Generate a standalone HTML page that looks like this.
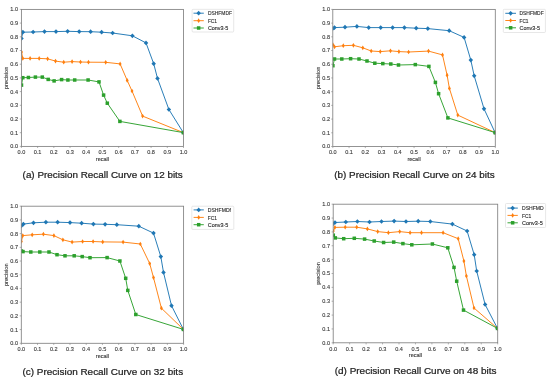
<!DOCTYPE html>
<html><head><meta charset="utf-8"><title>Precision Recall Curves</title>
<style>
html,body{margin:0;padding:0;background:#fff;}
body{width:550px;height:381px;overflow:hidden;}
svg{display:block;}
text{filter:grayscale(1);}
text{font-family:"Liberation Sans",sans-serif;}
.t{font-size:5.4px;fill:#3a3a3a;stroke:#3a3a3a;stroke-width:0.12px;}
.l{font-size:5.7px;fill:#333;stroke:#333;stroke-width:0.16px;}
.cap{font-size:9.3px;fill:#222;stroke:#222;stroke-width:0.22px;}
</style></head>
<body>
<svg width="550" height="381" viewBox="0 0 550 381">
<rect width="550" height="381" fill="#fff"/>
<path d="M21.4 146.4v1.6M21.4 146.4h-1.6M37.61 146.4v1.6M21.4 132.7h-1.6M53.82 146.4v1.6M21.4 119h-1.6M70.03 146.4v1.6M21.4 105.3h-1.6M86.24 146.4v1.6M21.4 91.6h-1.6M102.45 146.4v1.6M21.4 77.9h-1.6M118.66 146.4v1.6M21.4 64.2h-1.6M134.87 146.4v1.6M21.4 50.5h-1.6M151.08 146.4v1.6M21.4 36.8h-1.6M167.29 146.4v1.6M21.4 23.1h-1.6M183.5 146.4v1.6M21.4 9.4h-1.6" stroke="#808080" stroke-width="0.6" fill="none"/>
<text x="21.4" y="154.2" text-anchor="middle" class="t" textLength="7.7" lengthAdjust="spacingAndGlyphs">0.0</text>
<text x="18" y="148.35" text-anchor="end" class="t" textLength="7.7" lengthAdjust="spacingAndGlyphs">0.0</text>
<text x="37.61" y="154.2" text-anchor="middle" class="t" textLength="7.7" lengthAdjust="spacingAndGlyphs">0.1</text>
<text x="18" y="134.65" text-anchor="end" class="t" textLength="7.7" lengthAdjust="spacingAndGlyphs">0.1</text>
<text x="53.82" y="154.2" text-anchor="middle" class="t" textLength="7.7" lengthAdjust="spacingAndGlyphs">0.2</text>
<text x="18" y="120.95" text-anchor="end" class="t" textLength="7.7" lengthAdjust="spacingAndGlyphs">0.2</text>
<text x="70.03" y="154.2" text-anchor="middle" class="t" textLength="7.7" lengthAdjust="spacingAndGlyphs">0.3</text>
<text x="18" y="107.25" text-anchor="end" class="t" textLength="7.7" lengthAdjust="spacingAndGlyphs">0.3</text>
<text x="86.24" y="154.2" text-anchor="middle" class="t" textLength="7.7" lengthAdjust="spacingAndGlyphs">0.4</text>
<text x="18" y="93.55" text-anchor="end" class="t" textLength="7.7" lengthAdjust="spacingAndGlyphs">0.4</text>
<text x="102.45" y="154.2" text-anchor="middle" class="t" textLength="7.7" lengthAdjust="spacingAndGlyphs">0.5</text>
<text x="18" y="79.85" text-anchor="end" class="t" textLength="7.7" lengthAdjust="spacingAndGlyphs">0.5</text>
<text x="118.66" y="154.2" text-anchor="middle" class="t" textLength="7.7" lengthAdjust="spacingAndGlyphs">0.6</text>
<text x="18" y="66.15" text-anchor="end" class="t" textLength="7.7" lengthAdjust="spacingAndGlyphs">0.6</text>
<text x="134.87" y="154.2" text-anchor="middle" class="t" textLength="7.7" lengthAdjust="spacingAndGlyphs">0.7</text>
<text x="18" y="52.45" text-anchor="end" class="t" textLength="7.7" lengthAdjust="spacingAndGlyphs">0.7</text>
<text x="151.08" y="154.2" text-anchor="middle" class="t" textLength="7.7" lengthAdjust="spacingAndGlyphs">0.8</text>
<text x="18" y="38.75" text-anchor="end" class="t" textLength="7.7" lengthAdjust="spacingAndGlyphs">0.8</text>
<text x="167.29" y="154.2" text-anchor="middle" class="t" textLength="7.7" lengthAdjust="spacingAndGlyphs">0.9</text>
<text x="18" y="25.05" text-anchor="end" class="t" textLength="7.7" lengthAdjust="spacingAndGlyphs">0.9</text>
<text x="183.5" y="154.2" text-anchor="middle" class="t" textLength="7.7" lengthAdjust="spacingAndGlyphs">1.0</text>
<text x="18" y="11.35" text-anchor="end" class="t" textLength="7.7" lengthAdjust="spacingAndGlyphs">1.0</text>
<text x="102.45" y="160.7" text-anchor="middle" class="t" textLength="13.3" lengthAdjust="spacingAndGlyphs">recall</text>
<text transform="translate(7.8 77.9) rotate(-90)" text-anchor="middle" class="t" textLength="22.6" lengthAdjust="spacingAndGlyphs">precision</text>
<clipPath id="clip0"><rect x="21.4" y="9.4" width="162.1" height="137"/></clipPath>
<g clip-path="url(#clip0)">
<polyline points="21.5,38.5 22.9,32.2 33.1,32 44.5,31.6 56,31.6 67.6,31.3 79.2,31.6 90.6,31.7 101.6,32.2 112.6,33 132.4,35.8 146,42.9 153.7,63.7 157.5,78.4 168.9,109.5 183.3,132.6" fill="none" stroke="#1f77b4" stroke-width="0.95" stroke-linejoin="round"/>
<polyline points="21.5,52.1 22.8,58.4 30.1,58.4 39.2,58.4 47.6,58.8 55.5,61.1 63.7,62.2 72.1,61.6 80.5,62 88.5,62.2 105.7,62.3 120.1,63.9 127.2,80.4 132,91 142.6,116.1 183.3,132.6" fill="none" stroke="#ff7f0e" stroke-width="0.95" stroke-linejoin="round"/>
<polyline points="21.5,85.1 22.8,77.7 28.4,77.5 35.4,77.1 42.3,77.1 48.2,79.4 54.1,80.9 61.6,79.6 67.9,80 74.7,80 88.1,80 99,81.9 103.6,95.1 107.3,103.2 119.9,121.4 183.3,132.6" fill="none" stroke="#2ca02c" stroke-width="0.95" stroke-linejoin="round"/>
<path d="M21.5 36.15L23.75 38.5L21.5 40.85L19.25 38.5Z" fill="#1f77b4"/>
<path d="M22.9 29.85L25.15 32.2L22.9 34.55L20.65 32.2Z" fill="#1f77b4"/>
<path d="M33.1 29.65L35.35 32L33.1 34.35L30.85 32Z" fill="#1f77b4"/>
<path d="M44.5 29.25L46.75 31.6L44.5 33.95L42.25 31.6Z" fill="#1f77b4"/>
<path d="M56 29.25L58.25 31.6L56 33.95L53.75 31.6Z" fill="#1f77b4"/>
<path d="M67.6 28.95L69.85 31.3L67.6 33.65L65.35 31.3Z" fill="#1f77b4"/>
<path d="M79.2 29.25L81.45 31.6L79.2 33.95L76.95 31.6Z" fill="#1f77b4"/>
<path d="M90.6 29.35L92.85 31.7L90.6 34.05L88.35 31.7Z" fill="#1f77b4"/>
<path d="M101.6 29.85L103.85 32.2L101.6 34.55L99.35 32.2Z" fill="#1f77b4"/>
<path d="M112.6 30.65L114.85 33L112.6 35.35L110.35 33Z" fill="#1f77b4"/>
<path d="M132.4 33.45L134.65 35.8L132.4 38.15L130.15 35.8Z" fill="#1f77b4"/>
<path d="M146 40.55L148.25 42.9L146 45.25L143.75 42.9Z" fill="#1f77b4"/>
<path d="M153.7 61.35L155.95 63.7L153.7 66.05L151.45 63.7Z" fill="#1f77b4"/>
<path d="M157.5 76.05L159.75 78.4L157.5 80.75L155.25 78.4Z" fill="#1f77b4"/>
<path d="M168.9 107.15L171.15 109.5L168.9 111.85L166.65 109.5Z" fill="#1f77b4"/>
<path d="M183.3 130.25L185.55 132.6L183.3 134.95L181.05 132.6Z" fill="#1f77b4"/>
<path d="M21.5 49.75L22.95 52.1L21.5 54.45L20.05 52.1Z" fill="#ff7f0e"/>
<path d="M22.8 56.05L24.25 58.4L22.8 60.75L21.35 58.4Z" fill="#ff7f0e"/>
<path d="M30.1 56.05L31.55 58.4L30.1 60.75L28.65 58.4Z" fill="#ff7f0e"/>
<path d="M39.2 56.05L40.65 58.4L39.2 60.75L37.75 58.4Z" fill="#ff7f0e"/>
<path d="M47.6 56.45L49.05 58.8L47.6 61.15L46.15 58.8Z" fill="#ff7f0e"/>
<path d="M55.5 58.75L56.95 61.1L55.5 63.45L54.05 61.1Z" fill="#ff7f0e"/>
<path d="M63.7 59.85L65.15 62.2L63.7 64.55L62.25 62.2Z" fill="#ff7f0e"/>
<path d="M72.1 59.25L73.55 61.6L72.1 63.95L70.65 61.6Z" fill="#ff7f0e"/>
<path d="M80.5 59.65L81.95 62L80.5 64.35L79.05 62Z" fill="#ff7f0e"/>
<path d="M88.5 59.85L89.95 62.2L88.5 64.55L87.05 62.2Z" fill="#ff7f0e"/>
<path d="M105.7 59.95L107.15 62.3L105.7 64.65L104.25 62.3Z" fill="#ff7f0e"/>
<path d="M120.1 61.55L121.55 63.9L120.1 66.25L118.65 63.9Z" fill="#ff7f0e"/>
<path d="M127.2 78.05L128.65 80.4L127.2 82.75L125.75 80.4Z" fill="#ff7f0e"/>
<path d="M132 88.65L133.45 91L132 93.35L130.55 91Z" fill="#ff7f0e"/>
<path d="M142.6 113.75L144.05 116.1L142.6 118.45L141.15 116.1Z" fill="#ff7f0e"/>
<path d="M183.3 130.25L184.75 132.6L183.3 134.95L181.85 132.6Z" fill="#ff7f0e"/>
<rect x="19.75" y="83.35" width="3.5" height="3.5" fill="#2ca02c"/>
<rect x="21.05" y="75.95" width="3.5" height="3.5" fill="#2ca02c"/>
<rect x="26.65" y="75.75" width="3.5" height="3.5" fill="#2ca02c"/>
<rect x="33.65" y="75.35" width="3.5" height="3.5" fill="#2ca02c"/>
<rect x="40.55" y="75.35" width="3.5" height="3.5" fill="#2ca02c"/>
<rect x="46.45" y="77.65" width="3.5" height="3.5" fill="#2ca02c"/>
<rect x="52.35" y="79.15" width="3.5" height="3.5" fill="#2ca02c"/>
<rect x="59.85" y="77.85" width="3.5" height="3.5" fill="#2ca02c"/>
<rect x="66.15" y="78.25" width="3.5" height="3.5" fill="#2ca02c"/>
<rect x="72.95" y="78.25" width="3.5" height="3.5" fill="#2ca02c"/>
<rect x="86.35" y="78.25" width="3.5" height="3.5" fill="#2ca02c"/>
<rect x="97.25" y="80.15" width="3.5" height="3.5" fill="#2ca02c"/>
<rect x="101.85" y="93.35" width="3.5" height="3.5" fill="#2ca02c"/>
<rect x="105.55" y="101.45" width="3.5" height="3.5" fill="#2ca02c"/>
<rect x="118.15" y="119.65" width="3.5" height="3.5" fill="#2ca02c"/>
<rect x="181.55" y="130.85" width="3.5" height="3.5" fill="#2ca02c"/>
</g>
<rect x="21.4" y="9.4" width="162.1" height="137" fill="none" stroke="#808080" stroke-width="0.85"/>
<rect x="192.1" y="9.3" width="41.6" height="22.7" rx="0.9" fill="#fff" stroke="#d6d6d6" stroke-width="0.6"/>
<path d="M193.5 13.2H203.8" stroke="#1f77b4" stroke-width="0.95"/>
<path d="M198.65 10.85L200.9 13.2L198.65 15.55L196.4 13.2Z" fill="#1f77b4"/>
<text x="207.9" y="15.35" class="l" textLength="24.1" lengthAdjust="spacingAndGlyphs">DSHFMDF</text>
<path d="M193.5 20.7H203.8" stroke="#ff7f0e" stroke-width="0.95"/>
<path d="M198.65 18.35L200.1 20.7L198.65 23.05L197.2 20.7Z" fill="#ff7f0e"/>
<text x="207.9" y="22.85" class="l" textLength="9" lengthAdjust="spacingAndGlyphs">FC1</text>
<path d="M193.5 28H203.8" stroke="#2ca02c" stroke-width="0.95"/>
<rect x="196.9" y="26.25" width="3.5" height="3.5" fill="#2ca02c"/>
<text x="207.9" y="30.15" class="l" textLength="20.5" lengthAdjust="spacingAndGlyphs">Conv3-5</text>
<text x="22.6" y="177.7" class="cap" textLength="160.2" lengthAdjust="spacingAndGlyphs">(a) Precision Recall Curve on 12 bits</text>
<path d="M332.8 146.5v1.6M332.8 146.5h-1.6M349.05 146.5v1.6M332.8 132.79h-1.6M365.3 146.5v1.6M332.8 119.08h-1.6M381.55 146.5v1.6M332.8 105.37h-1.6M397.8 146.5v1.6M332.8 91.66h-1.6M414.05 146.5v1.6M332.8 77.95h-1.6M430.3 146.5v1.6M332.8 64.24h-1.6M446.55 146.5v1.6M332.8 50.53h-1.6M462.8 146.5v1.6M332.8 36.82h-1.6M479.05 146.5v1.6M332.8 23.11h-1.6M495.3 146.5v1.6M332.8 9.4h-1.6" stroke="#808080" stroke-width="0.6" fill="none"/>
<text x="332.8" y="154.3" text-anchor="middle" class="t" textLength="7.7" lengthAdjust="spacingAndGlyphs">0.0</text>
<text x="330" y="148.45" text-anchor="end" class="t" textLength="7.7" lengthAdjust="spacingAndGlyphs">0.0</text>
<text x="349.05" y="154.3" text-anchor="middle" class="t" textLength="7.7" lengthAdjust="spacingAndGlyphs">0.1</text>
<text x="330" y="134.74" text-anchor="end" class="t" textLength="7.7" lengthAdjust="spacingAndGlyphs">0.1</text>
<text x="365.3" y="154.3" text-anchor="middle" class="t" textLength="7.7" lengthAdjust="spacingAndGlyphs">0.2</text>
<text x="330" y="121.03" text-anchor="end" class="t" textLength="7.7" lengthAdjust="spacingAndGlyphs">0.2</text>
<text x="381.55" y="154.3" text-anchor="middle" class="t" textLength="7.7" lengthAdjust="spacingAndGlyphs">0.3</text>
<text x="330" y="107.32" text-anchor="end" class="t" textLength="7.7" lengthAdjust="spacingAndGlyphs">0.3</text>
<text x="397.8" y="154.3" text-anchor="middle" class="t" textLength="7.7" lengthAdjust="spacingAndGlyphs">0.4</text>
<text x="330" y="93.61" text-anchor="end" class="t" textLength="7.7" lengthAdjust="spacingAndGlyphs">0.4</text>
<text x="414.05" y="154.3" text-anchor="middle" class="t" textLength="7.7" lengthAdjust="spacingAndGlyphs">0.5</text>
<text x="330" y="79.9" text-anchor="end" class="t" textLength="7.7" lengthAdjust="spacingAndGlyphs">0.5</text>
<text x="430.3" y="154.3" text-anchor="middle" class="t" textLength="7.7" lengthAdjust="spacingAndGlyphs">0.6</text>
<text x="330" y="66.19" text-anchor="end" class="t" textLength="7.7" lengthAdjust="spacingAndGlyphs">0.6</text>
<text x="446.55" y="154.3" text-anchor="middle" class="t" textLength="7.7" lengthAdjust="spacingAndGlyphs">0.7</text>
<text x="330" y="52.48" text-anchor="end" class="t" textLength="7.7" lengthAdjust="spacingAndGlyphs">0.7</text>
<text x="462.8" y="154.3" text-anchor="middle" class="t" textLength="7.7" lengthAdjust="spacingAndGlyphs">0.8</text>
<text x="330" y="38.77" text-anchor="end" class="t" textLength="7.7" lengthAdjust="spacingAndGlyphs">0.8</text>
<text x="479.05" y="154.3" text-anchor="middle" class="t" textLength="7.7" lengthAdjust="spacingAndGlyphs">0.9</text>
<text x="330" y="25.06" text-anchor="end" class="t" textLength="7.7" lengthAdjust="spacingAndGlyphs">0.9</text>
<text x="495.3" y="154.3" text-anchor="middle" class="t" textLength="7.7" lengthAdjust="spacingAndGlyphs">1.0</text>
<text x="330" y="11.35" text-anchor="end" class="t" textLength="7.7" lengthAdjust="spacingAndGlyphs">1.0</text>
<text x="414.05" y="160.8" text-anchor="middle" class="t" textLength="13.3" lengthAdjust="spacingAndGlyphs">recall</text>
<text transform="translate(319.6 77.95) rotate(-90)" text-anchor="middle" class="t" textLength="22.6" lengthAdjust="spacingAndGlyphs">precision</text>
<clipPath id="clip1"><rect x="332.8" y="9.4" width="162.5" height="137.1"/></clipPath>
<g clip-path="url(#clip1)">
<polyline points="332.9,28.5 334.5,27.6 345,27.2 356.9,26.4 368.7,27.6 380.7,27.6 392.6,27.6 404.4,27.6 416.2,28.2 427.8,28.6 449.2,30.7 464.1,37.4 470.8,60.1 474.2,75.8 484,108.8 495.1,132.6" fill="none" stroke="#1f77b4" stroke-width="0.95" stroke-linejoin="round"/>
<polyline points="332.9,44.7 334.5,46.8 343.3,45.7 353.4,45.3 362.8,47.8 371.2,51 380.3,51.6 390.5,50.8 398.9,51.6 408.6,52 428.5,51.1 442.5,54.9 447.1,75.2 449.4,88.4 457.8,115.1 495.1,132.6" fill="none" stroke="#ff7f0e" stroke-width="0.95" stroke-linejoin="round"/>
<polyline points="332.9,65.7 334.5,59 341.8,59 350.6,58.7 359,59 367,61 374.8,63.2 382.8,63.6 390.8,64 398.5,65 415.3,64.6 428.9,66.4 435.4,82.4 438.6,93.7 447.9,117.9 495.1,132.6" fill="none" stroke="#2ca02c" stroke-width="0.95" stroke-linejoin="round"/>
<path d="M332.9 26.15L335.15 28.5L332.9 30.85L330.65 28.5Z" fill="#1f77b4"/>
<path d="M334.5 25.25L336.75 27.6L334.5 29.95L332.25 27.6Z" fill="#1f77b4"/>
<path d="M345 24.85L347.25 27.2L345 29.55L342.75 27.2Z" fill="#1f77b4"/>
<path d="M356.9 24.05L359.15 26.4L356.9 28.75L354.65 26.4Z" fill="#1f77b4"/>
<path d="M368.7 25.25L370.95 27.6L368.7 29.95L366.45 27.6Z" fill="#1f77b4"/>
<path d="M380.7 25.25L382.95 27.6L380.7 29.95L378.45 27.6Z" fill="#1f77b4"/>
<path d="M392.6 25.25L394.85 27.6L392.6 29.95L390.35 27.6Z" fill="#1f77b4"/>
<path d="M404.4 25.25L406.65 27.6L404.4 29.95L402.15 27.6Z" fill="#1f77b4"/>
<path d="M416.2 25.85L418.45 28.2L416.2 30.55L413.95 28.2Z" fill="#1f77b4"/>
<path d="M427.8 26.25L430.05 28.6L427.8 30.95L425.55 28.6Z" fill="#1f77b4"/>
<path d="M449.2 28.35L451.45 30.7L449.2 33.05L446.95 30.7Z" fill="#1f77b4"/>
<path d="M464.1 35.05L466.35 37.4L464.1 39.75L461.85 37.4Z" fill="#1f77b4"/>
<path d="M470.8 57.75L473.05 60.1L470.8 62.45L468.55 60.1Z" fill="#1f77b4"/>
<path d="M474.2 73.45L476.45 75.8L474.2 78.15L471.95 75.8Z" fill="#1f77b4"/>
<path d="M484 106.45L486.25 108.8L484 111.15L481.75 108.8Z" fill="#1f77b4"/>
<path d="M495.1 130.25L497.35 132.6L495.1 134.95L492.85 132.6Z" fill="#1f77b4"/>
<path d="M332.9 42.35L334.35 44.7L332.9 47.05L331.45 44.7Z" fill="#ff7f0e"/>
<path d="M334.5 44.45L335.95 46.8L334.5 49.15L333.05 46.8Z" fill="#ff7f0e"/>
<path d="M343.3 43.35L344.75 45.7L343.3 48.05L341.85 45.7Z" fill="#ff7f0e"/>
<path d="M353.4 42.95L354.85 45.3L353.4 47.65L351.95 45.3Z" fill="#ff7f0e"/>
<path d="M362.8 45.45L364.25 47.8L362.8 50.15L361.35 47.8Z" fill="#ff7f0e"/>
<path d="M371.2 48.65L372.65 51L371.2 53.35L369.75 51Z" fill="#ff7f0e"/>
<path d="M380.3 49.25L381.75 51.6L380.3 53.95L378.85 51.6Z" fill="#ff7f0e"/>
<path d="M390.5 48.45L391.95 50.8L390.5 53.15L389.05 50.8Z" fill="#ff7f0e"/>
<path d="M398.9 49.25L400.35 51.6L398.9 53.95L397.45 51.6Z" fill="#ff7f0e"/>
<path d="M408.6 49.65L410.05 52L408.6 54.35L407.15 52Z" fill="#ff7f0e"/>
<path d="M428.5 48.75L429.95 51.1L428.5 53.45L427.05 51.1Z" fill="#ff7f0e"/>
<path d="M442.5 52.55L443.95 54.9L442.5 57.25L441.05 54.9Z" fill="#ff7f0e"/>
<path d="M447.1 72.85L448.55 75.2L447.1 77.55L445.65 75.2Z" fill="#ff7f0e"/>
<path d="M449.4 86.05L450.85 88.4L449.4 90.75L447.95 88.4Z" fill="#ff7f0e"/>
<path d="M457.8 112.75L459.25 115.1L457.8 117.45L456.35 115.1Z" fill="#ff7f0e"/>
<path d="M495.1 130.25L496.55 132.6L495.1 134.95L493.65 132.6Z" fill="#ff7f0e"/>
<rect x="331.15" y="63.95" width="3.5" height="3.5" fill="#2ca02c"/>
<rect x="332.75" y="57.25" width="3.5" height="3.5" fill="#2ca02c"/>
<rect x="340.05" y="57.25" width="3.5" height="3.5" fill="#2ca02c"/>
<rect x="348.85" y="56.95" width="3.5" height="3.5" fill="#2ca02c"/>
<rect x="357.25" y="57.25" width="3.5" height="3.5" fill="#2ca02c"/>
<rect x="365.25" y="59.25" width="3.5" height="3.5" fill="#2ca02c"/>
<rect x="373.05" y="61.45" width="3.5" height="3.5" fill="#2ca02c"/>
<rect x="381.05" y="61.85" width="3.5" height="3.5" fill="#2ca02c"/>
<rect x="389.05" y="62.25" width="3.5" height="3.5" fill="#2ca02c"/>
<rect x="396.75" y="63.25" width="3.5" height="3.5" fill="#2ca02c"/>
<rect x="413.55" y="62.85" width="3.5" height="3.5" fill="#2ca02c"/>
<rect x="427.15" y="64.65" width="3.5" height="3.5" fill="#2ca02c"/>
<rect x="433.65" y="80.65" width="3.5" height="3.5" fill="#2ca02c"/>
<rect x="436.85" y="91.95" width="3.5" height="3.5" fill="#2ca02c"/>
<rect x="446.15" y="116.15" width="3.5" height="3.5" fill="#2ca02c"/>
<rect x="493.35" y="130.85" width="3.5" height="3.5" fill="#2ca02c"/>
</g>
<rect x="332.8" y="9.4" width="162.5" height="137.1" fill="none" stroke="#808080" stroke-width="0.85"/>
<rect x="503.3" y="9.3" width="42.1" height="23.2" rx="0.9" fill="#fff" stroke="#d6d6d6" stroke-width="0.6"/>
<path d="M505.3 13.3H516" stroke="#1f77b4" stroke-width="0.95"/>
<path d="M510.65 10.95L512.9 13.3L510.65 15.65L508.4 13.3Z" fill="#1f77b4"/>
<text x="519.5" y="15.45" class="l" textLength="24.2" lengthAdjust="spacingAndGlyphs">DSHFMDF</text>
<path d="M505.3 20.5H516" stroke="#ff7f0e" stroke-width="0.95"/>
<path d="M510.65 18.15L512.1 20.5L510.65 22.85L509.2 20.5Z" fill="#ff7f0e"/>
<text x="519.5" y="22.65" class="l" textLength="9" lengthAdjust="spacingAndGlyphs">FC1</text>
<path d="M505.3 27.8H516" stroke="#2ca02c" stroke-width="0.95"/>
<rect x="508.9" y="26.05" width="3.5" height="3.5" fill="#2ca02c"/>
<text x="519.5" y="29.95" class="l" textLength="20.5" lengthAdjust="spacingAndGlyphs">Conv3-5</text>
<text x="334.3" y="177.7" class="cap" textLength="160.4" lengthAdjust="spacingAndGlyphs">(b) Precision Recall Curve on 24 bits</text>
<path d="M21.3 343.3v1.6M21.3 343.3h-1.6M37.53 343.3v1.6M21.3 329.59h-1.6M53.76 343.3v1.6M21.3 315.88h-1.6M69.99 343.3v1.6M21.3 302.17h-1.6M86.22 343.3v1.6M21.3 288.46h-1.6M102.45 343.3v1.6M21.3 274.75h-1.6M118.68 343.3v1.6M21.3 261.04h-1.6M134.91 343.3v1.6M21.3 247.33h-1.6M151.14 343.3v1.6M21.3 233.62h-1.6M167.37 343.3v1.6M21.3 219.91h-1.6M183.6 343.3v1.6M21.3 206.2h-1.6" stroke="#808080" stroke-width="0.6" fill="none"/>
<text x="21.3" y="351.1" text-anchor="middle" class="t" textLength="7.7" lengthAdjust="spacingAndGlyphs">0.0</text>
<text x="18" y="345.25" text-anchor="end" class="t" textLength="7.7" lengthAdjust="spacingAndGlyphs">0.0</text>
<text x="37.53" y="351.1" text-anchor="middle" class="t" textLength="7.7" lengthAdjust="spacingAndGlyphs">0.1</text>
<text x="18" y="331.54" text-anchor="end" class="t" textLength="7.7" lengthAdjust="spacingAndGlyphs">0.1</text>
<text x="53.76" y="351.1" text-anchor="middle" class="t" textLength="7.7" lengthAdjust="spacingAndGlyphs">0.2</text>
<text x="18" y="317.83" text-anchor="end" class="t" textLength="7.7" lengthAdjust="spacingAndGlyphs">0.2</text>
<text x="69.99" y="351.1" text-anchor="middle" class="t" textLength="7.7" lengthAdjust="spacingAndGlyphs">0.3</text>
<text x="18" y="304.12" text-anchor="end" class="t" textLength="7.7" lengthAdjust="spacingAndGlyphs">0.3</text>
<text x="86.22" y="351.1" text-anchor="middle" class="t" textLength="7.7" lengthAdjust="spacingAndGlyphs">0.4</text>
<text x="18" y="290.41" text-anchor="end" class="t" textLength="7.7" lengthAdjust="spacingAndGlyphs">0.4</text>
<text x="102.45" y="351.1" text-anchor="middle" class="t" textLength="7.7" lengthAdjust="spacingAndGlyphs">0.5</text>
<text x="18" y="276.7" text-anchor="end" class="t" textLength="7.7" lengthAdjust="spacingAndGlyphs">0.5</text>
<text x="118.68" y="351.1" text-anchor="middle" class="t" textLength="7.7" lengthAdjust="spacingAndGlyphs">0.6</text>
<text x="18" y="262.99" text-anchor="end" class="t" textLength="7.7" lengthAdjust="spacingAndGlyphs">0.6</text>
<text x="134.91" y="351.1" text-anchor="middle" class="t" textLength="7.7" lengthAdjust="spacingAndGlyphs">0.7</text>
<text x="18" y="249.28" text-anchor="end" class="t" textLength="7.7" lengthAdjust="spacingAndGlyphs">0.7</text>
<text x="151.14" y="351.1" text-anchor="middle" class="t" textLength="7.7" lengthAdjust="spacingAndGlyphs">0.8</text>
<text x="18" y="235.57" text-anchor="end" class="t" textLength="7.7" lengthAdjust="spacingAndGlyphs">0.8</text>
<text x="167.37" y="351.1" text-anchor="middle" class="t" textLength="7.7" lengthAdjust="spacingAndGlyphs">0.9</text>
<text x="18" y="221.86" text-anchor="end" class="t" textLength="7.7" lengthAdjust="spacingAndGlyphs">0.9</text>
<text x="183.6" y="351.1" text-anchor="middle" class="t" textLength="7.7" lengthAdjust="spacingAndGlyphs">1.0</text>
<text x="18" y="208.15" text-anchor="end" class="t" textLength="7.7" lengthAdjust="spacingAndGlyphs">1.0</text>
<text x="102.45" y="357.6" text-anchor="middle" class="t" textLength="13.3" lengthAdjust="spacingAndGlyphs">recall</text>
<text transform="translate(7.8 274.75) rotate(-90)" text-anchor="middle" class="t" textLength="22.6" lengthAdjust="spacingAndGlyphs">precision</text>
<clipPath id="clip2"><rect x="21.3" y="206.2" width="162.3" height="137.1"/></clipPath>
<g clip-path="url(#clip2)">
<polyline points="21.4,225.8 23.4,224.1 33.5,222.8 45.9,222.2 57.6,222.2 70,222.6 81.6,223.2 93.4,224.1 105.1,224.3 116.8,224.7 138.8,226.2 153.5,233.1 160.8,256.6 163.5,272.4 171.5,305.7 183.4,329.4" fill="none" stroke="#1f77b4" stroke-width="0.95" stroke-linejoin="round"/>
<polyline points="21.4,241.5 22.8,235.6 32.2,234.8 43.4,234.2 53.9,235.6 62.9,239.8 72.1,242.1 82.6,241.5 93.1,241.5 102.7,241.9 123.1,242.1 140.3,244 149.7,263.5 153.5,277.6 161.4,308.2 183.4,329.4" fill="none" stroke="#ff7f0e" stroke-width="0.95" stroke-linejoin="round"/>
<polyline points="21.4,251 23,251.6 30.8,252 39.8,252 49,252 57,254.7 65,255.8 74.2,255.8 82.2,256.6 90,257.7 107.1,257.6 119.9,261 125.7,278.3 127.8,290.4 135.8,314.5 183.4,329.4" fill="none" stroke="#2ca02c" stroke-width="0.95" stroke-linejoin="round"/>
<path d="M21.4 223.45L23.65 225.8L21.4 228.15L19.15 225.8Z" fill="#1f77b4"/>
<path d="M23.4 221.75L25.65 224.1L23.4 226.45L21.15 224.1Z" fill="#1f77b4"/>
<path d="M33.5 220.45L35.75 222.8L33.5 225.15L31.25 222.8Z" fill="#1f77b4"/>
<path d="M45.9 219.85L48.15 222.2L45.9 224.55L43.65 222.2Z" fill="#1f77b4"/>
<path d="M57.6 219.85L59.85 222.2L57.6 224.55L55.35 222.2Z" fill="#1f77b4"/>
<path d="M70 220.25L72.25 222.6L70 224.95L67.75 222.6Z" fill="#1f77b4"/>
<path d="M81.6 220.85L83.85 223.2L81.6 225.55L79.35 223.2Z" fill="#1f77b4"/>
<path d="M93.4 221.75L95.65 224.1L93.4 226.45L91.15 224.1Z" fill="#1f77b4"/>
<path d="M105.1 221.95L107.35 224.3L105.1 226.65L102.85 224.3Z" fill="#1f77b4"/>
<path d="M116.8 222.35L119.05 224.7L116.8 227.05L114.55 224.7Z" fill="#1f77b4"/>
<path d="M138.8 223.85L141.05 226.2L138.8 228.55L136.55 226.2Z" fill="#1f77b4"/>
<path d="M153.5 230.75L155.75 233.1L153.5 235.45L151.25 233.1Z" fill="#1f77b4"/>
<path d="M160.8 254.25L163.05 256.6L160.8 258.95L158.55 256.6Z" fill="#1f77b4"/>
<path d="M163.5 270.05L165.75 272.4L163.5 274.75L161.25 272.4Z" fill="#1f77b4"/>
<path d="M171.5 303.35L173.75 305.7L171.5 308.05L169.25 305.7Z" fill="#1f77b4"/>
<path d="M183.4 327.05L185.65 329.4L183.4 331.75L181.15 329.4Z" fill="#1f77b4"/>
<path d="M21.4 239.15L22.85 241.5L21.4 243.85L19.95 241.5Z" fill="#ff7f0e"/>
<path d="M22.8 233.25L24.25 235.6L22.8 237.95L21.35 235.6Z" fill="#ff7f0e"/>
<path d="M32.2 232.45L33.65 234.8L32.2 237.15L30.75 234.8Z" fill="#ff7f0e"/>
<path d="M43.4 231.85L44.85 234.2L43.4 236.55L41.95 234.2Z" fill="#ff7f0e"/>
<path d="M53.9 233.25L55.35 235.6L53.9 237.95L52.45 235.6Z" fill="#ff7f0e"/>
<path d="M62.9 237.45L64.35 239.8L62.9 242.15L61.45 239.8Z" fill="#ff7f0e"/>
<path d="M72.1 239.75L73.55 242.1L72.1 244.45L70.65 242.1Z" fill="#ff7f0e"/>
<path d="M82.6 239.15L84.05 241.5L82.6 243.85L81.15 241.5Z" fill="#ff7f0e"/>
<path d="M93.1 239.15L94.55 241.5L93.1 243.85L91.65 241.5Z" fill="#ff7f0e"/>
<path d="M102.7 239.55L104.15 241.9L102.7 244.25L101.25 241.9Z" fill="#ff7f0e"/>
<path d="M123.1 239.75L124.55 242.1L123.1 244.45L121.65 242.1Z" fill="#ff7f0e"/>
<path d="M140.3 241.65L141.75 244L140.3 246.35L138.85 244Z" fill="#ff7f0e"/>
<path d="M149.7 261.15L151.15 263.5L149.7 265.85L148.25 263.5Z" fill="#ff7f0e"/>
<path d="M153.5 275.25L154.95 277.6L153.5 279.95L152.05 277.6Z" fill="#ff7f0e"/>
<path d="M161.4 305.85L162.85 308.2L161.4 310.55L159.95 308.2Z" fill="#ff7f0e"/>
<path d="M183.4 327.05L184.85 329.4L183.4 331.75L181.95 329.4Z" fill="#ff7f0e"/>
<rect x="19.65" y="249.25" width="3.5" height="3.5" fill="#2ca02c"/>
<rect x="21.25" y="249.85" width="3.5" height="3.5" fill="#2ca02c"/>
<rect x="29.05" y="250.25" width="3.5" height="3.5" fill="#2ca02c"/>
<rect x="38.05" y="250.25" width="3.5" height="3.5" fill="#2ca02c"/>
<rect x="47.25" y="250.25" width="3.5" height="3.5" fill="#2ca02c"/>
<rect x="55.25" y="252.95" width="3.5" height="3.5" fill="#2ca02c"/>
<rect x="63.25" y="254.05" width="3.5" height="3.5" fill="#2ca02c"/>
<rect x="72.45" y="254.05" width="3.5" height="3.5" fill="#2ca02c"/>
<rect x="80.45" y="254.85" width="3.5" height="3.5" fill="#2ca02c"/>
<rect x="88.25" y="255.95" width="3.5" height="3.5" fill="#2ca02c"/>
<rect x="105.35" y="255.85" width="3.5" height="3.5" fill="#2ca02c"/>
<rect x="118.15" y="259.25" width="3.5" height="3.5" fill="#2ca02c"/>
<rect x="123.95" y="276.55" width="3.5" height="3.5" fill="#2ca02c"/>
<rect x="126.05" y="288.65" width="3.5" height="3.5" fill="#2ca02c"/>
<rect x="134.05" y="312.75" width="3.5" height="3.5" fill="#2ca02c"/>
<rect x="181.65" y="327.65" width="3.5" height="3.5" fill="#2ca02c"/>
</g>
<rect x="21.3" y="206.2" width="162.3" height="137.1" fill="none" stroke="#808080" stroke-width="0.85"/>
<rect x="191.8" y="206.2" width="42" height="23.2" rx="0.9" fill="#fff" stroke="#d6d6d6" stroke-width="0.6"/>
<path d="M193.6 209.9H203.8" stroke="#1f77b4" stroke-width="0.95"/>
<path d="M198.7 207.55L200.95 209.9L198.7 212.25L196.45 209.9Z" fill="#1f77b4"/>
<text x="207.8" y="212.05" class="l" textLength="23.2" lengthAdjust="spacingAndGlyphs">DSHFMDf</text>
<path d="M193.6 217.4H203.8" stroke="#ff7f0e" stroke-width="0.95"/>
<path d="M198.7 215.05L200.15 217.4L198.7 219.75L197.25 217.4Z" fill="#ff7f0e"/>
<text x="207.8" y="219.55" class="l" textLength="9" lengthAdjust="spacingAndGlyphs">FC1</text>
<path d="M193.6 224.7H203.8" stroke="#2ca02c" stroke-width="0.95"/>
<rect x="196.95" y="222.95" width="3.5" height="3.5" fill="#2ca02c"/>
<text x="207.8" y="226.85" class="l" textLength="20.5" lengthAdjust="spacingAndGlyphs">Conv3-5</text>
<text x="22.5" y="374.6" class="cap" textLength="160.6" lengthAdjust="spacingAndGlyphs">(c) Precision Recall Curve on 32 bits</text>
<path d="M333.2 342.8v1.6M333.2 342.8h-1.6M349.65 342.8v1.6M333.2 328.94h-1.6M366.1 342.8v1.6M333.2 315.08h-1.6M382.55 342.8v1.6M333.2 301.22h-1.6M399 342.8v1.6M333.2 287.36h-1.6M415.45 342.8v1.6M333.2 273.5h-1.6M431.9 342.8v1.6M333.2 259.64h-1.6M448.35 342.8v1.6M333.2 245.78h-1.6M464.8 342.8v1.6M333.2 231.92h-1.6M481.25 342.8v1.6M333.2 218.06h-1.6M497.7 342.8v1.6M333.2 204.2h-1.6" stroke="#808080" stroke-width="0.6" fill="none"/>
<text x="333.2" y="350.6" text-anchor="middle" class="t" textLength="7.7" lengthAdjust="spacingAndGlyphs">0.0</text>
<text x="330" y="344.75" text-anchor="end" class="t" textLength="7.7" lengthAdjust="spacingAndGlyphs">0.0</text>
<text x="349.65" y="350.6" text-anchor="middle" class="t" textLength="7.7" lengthAdjust="spacingAndGlyphs">0.1</text>
<text x="330" y="330.89" text-anchor="end" class="t" textLength="7.7" lengthAdjust="spacingAndGlyphs">0.1</text>
<text x="366.1" y="350.6" text-anchor="middle" class="t" textLength="7.7" lengthAdjust="spacingAndGlyphs">0.2</text>
<text x="330" y="317.03" text-anchor="end" class="t" textLength="7.7" lengthAdjust="spacingAndGlyphs">0.2</text>
<text x="382.55" y="350.6" text-anchor="middle" class="t" textLength="7.7" lengthAdjust="spacingAndGlyphs">0.3</text>
<text x="330" y="303.17" text-anchor="end" class="t" textLength="7.7" lengthAdjust="spacingAndGlyphs">0.3</text>
<text x="399" y="350.6" text-anchor="middle" class="t" textLength="7.7" lengthAdjust="spacingAndGlyphs">0.4</text>
<text x="330" y="289.31" text-anchor="end" class="t" textLength="7.7" lengthAdjust="spacingAndGlyphs">0.4</text>
<text x="415.45" y="350.6" text-anchor="middle" class="t" textLength="7.7" lengthAdjust="spacingAndGlyphs">0.5</text>
<text x="330" y="275.45" text-anchor="end" class="t" textLength="7.7" lengthAdjust="spacingAndGlyphs">0.5</text>
<text x="431.9" y="350.6" text-anchor="middle" class="t" textLength="7.7" lengthAdjust="spacingAndGlyphs">0.6</text>
<text x="330" y="261.59" text-anchor="end" class="t" textLength="7.7" lengthAdjust="spacingAndGlyphs">0.6</text>
<text x="448.35" y="350.6" text-anchor="middle" class="t" textLength="7.7" lengthAdjust="spacingAndGlyphs">0.7</text>
<text x="330" y="247.73" text-anchor="end" class="t" textLength="7.7" lengthAdjust="spacingAndGlyphs">0.7</text>
<text x="464.8" y="350.6" text-anchor="middle" class="t" textLength="7.7" lengthAdjust="spacingAndGlyphs">0.8</text>
<text x="330" y="233.87" text-anchor="end" class="t" textLength="7.7" lengthAdjust="spacingAndGlyphs">0.8</text>
<text x="481.25" y="350.6" text-anchor="middle" class="t" textLength="7.7" lengthAdjust="spacingAndGlyphs">0.9</text>
<text x="330" y="220.01" text-anchor="end" class="t" textLength="7.7" lengthAdjust="spacingAndGlyphs">0.9</text>
<text x="497.7" y="350.6" text-anchor="middle" class="t" textLength="7.7" lengthAdjust="spacingAndGlyphs">1.0</text>
<text x="330" y="206.15" text-anchor="end" class="t" textLength="7.7" lengthAdjust="spacingAndGlyphs">1.0</text>
<text x="415.45" y="357.1" text-anchor="middle" class="t" textLength="13.3" lengthAdjust="spacingAndGlyphs">recall</text>
<text transform="translate(319.6 273.5) rotate(-90)" text-anchor="middle" class="t" textLength="22.6" lengthAdjust="spacingAndGlyphs">precision</text>
<clipPath id="clip3"><rect x="333.2" y="204.2" width="164.5" height="138.6"/></clipPath>
<g clip-path="url(#clip3)">
<polyline points="333.3,223.6 335,222.5 345.8,222 357.4,221.5 369.5,222 381.5,221.5 394.1,221.1 406,221.5 418.2,221.2 430.3,221.5 452.4,224.1 467.1,231 474.2,254.7 476.7,271 485.1,304.5 497.5,328.4" fill="none" stroke="#1f77b4" stroke-width="0.95" stroke-linejoin="round"/>
<polyline points="333.3,231 334.9,227.4 345.2,227.2 356.7,227.2 367.4,228.9 377.7,231.6 388.4,232.7 399.7,231.6 410.1,232.7 421.5,232.7 443.1,232.7 458.2,238.7 463.9,261 466.4,276 474,308 497.5,328.4" fill="none" stroke="#ff7f0e" stroke-width="0.95" stroke-linejoin="round"/>
<polyline points="333.3,235.2 335.3,237.9 343.7,238.7 354.3,238.3 364.6,239.1 374.2,241 383.6,242.5 393.7,242.1 402.9,243.6 411.8,244.8 432.4,244 447.8,247.8 454,267.4 456.7,281.2 463.5,310.1 497.5,328.4" fill="none" stroke="#2ca02c" stroke-width="0.95" stroke-linejoin="round"/>
<path d="M333.3 221.25L335.55 223.6L333.3 225.95L331.05 223.6Z" fill="#1f77b4"/>
<path d="M335 220.15L337.25 222.5L335 224.85L332.75 222.5Z" fill="#1f77b4"/>
<path d="M345.8 219.65L348.05 222L345.8 224.35L343.55 222Z" fill="#1f77b4"/>
<path d="M357.4 219.15L359.65 221.5L357.4 223.85L355.15 221.5Z" fill="#1f77b4"/>
<path d="M369.5 219.65L371.75 222L369.5 224.35L367.25 222Z" fill="#1f77b4"/>
<path d="M381.5 219.15L383.75 221.5L381.5 223.85L379.25 221.5Z" fill="#1f77b4"/>
<path d="M394.1 218.75L396.35 221.1L394.1 223.45L391.85 221.1Z" fill="#1f77b4"/>
<path d="M406 219.15L408.25 221.5L406 223.85L403.75 221.5Z" fill="#1f77b4"/>
<path d="M418.2 218.85L420.45 221.2L418.2 223.55L415.95 221.2Z" fill="#1f77b4"/>
<path d="M430.3 219.15L432.55 221.5L430.3 223.85L428.05 221.5Z" fill="#1f77b4"/>
<path d="M452.4 221.75L454.65 224.1L452.4 226.45L450.15 224.1Z" fill="#1f77b4"/>
<path d="M467.1 228.65L469.35 231L467.1 233.35L464.85 231Z" fill="#1f77b4"/>
<path d="M474.2 252.35L476.45 254.7L474.2 257.05L471.95 254.7Z" fill="#1f77b4"/>
<path d="M476.7 268.65L478.95 271L476.7 273.35L474.45 271Z" fill="#1f77b4"/>
<path d="M485.1 302.15L487.35 304.5L485.1 306.85L482.85 304.5Z" fill="#1f77b4"/>
<path d="M497.5 326.05L499.75 328.4L497.5 330.75L495.25 328.4Z" fill="#1f77b4"/>
<path d="M333.3 228.65L334.75 231L333.3 233.35L331.85 231Z" fill="#ff7f0e"/>
<path d="M334.9 225.05L336.35 227.4L334.9 229.75L333.45 227.4Z" fill="#ff7f0e"/>
<path d="M345.2 224.85L346.65 227.2L345.2 229.55L343.75 227.2Z" fill="#ff7f0e"/>
<path d="M356.7 224.85L358.15 227.2L356.7 229.55L355.25 227.2Z" fill="#ff7f0e"/>
<path d="M367.4 226.55L368.85 228.9L367.4 231.25L365.95 228.9Z" fill="#ff7f0e"/>
<path d="M377.7 229.25L379.15 231.6L377.7 233.95L376.25 231.6Z" fill="#ff7f0e"/>
<path d="M388.4 230.35L389.85 232.7L388.4 235.05L386.95 232.7Z" fill="#ff7f0e"/>
<path d="M399.7 229.25L401.15 231.6L399.7 233.95L398.25 231.6Z" fill="#ff7f0e"/>
<path d="M410.1 230.35L411.55 232.7L410.1 235.05L408.65 232.7Z" fill="#ff7f0e"/>
<path d="M421.5 230.35L422.95 232.7L421.5 235.05L420.05 232.7Z" fill="#ff7f0e"/>
<path d="M443.1 230.35L444.55 232.7L443.1 235.05L441.65 232.7Z" fill="#ff7f0e"/>
<path d="M458.2 236.35L459.65 238.7L458.2 241.05L456.75 238.7Z" fill="#ff7f0e"/>
<path d="M463.9 258.65L465.35 261L463.9 263.35L462.45 261Z" fill="#ff7f0e"/>
<path d="M466.4 273.65L467.85 276L466.4 278.35L464.95 276Z" fill="#ff7f0e"/>
<path d="M474 305.65L475.45 308L474 310.35L472.55 308Z" fill="#ff7f0e"/>
<path d="M497.5 326.05L498.95 328.4L497.5 330.75L496.05 328.4Z" fill="#ff7f0e"/>
<rect x="331.55" y="233.45" width="3.5" height="3.5" fill="#2ca02c"/>
<rect x="333.55" y="236.15" width="3.5" height="3.5" fill="#2ca02c"/>
<rect x="341.95" y="236.95" width="3.5" height="3.5" fill="#2ca02c"/>
<rect x="352.55" y="236.55" width="3.5" height="3.5" fill="#2ca02c"/>
<rect x="362.85" y="237.35" width="3.5" height="3.5" fill="#2ca02c"/>
<rect x="372.45" y="239.25" width="3.5" height="3.5" fill="#2ca02c"/>
<rect x="381.85" y="240.75" width="3.5" height="3.5" fill="#2ca02c"/>
<rect x="391.95" y="240.35" width="3.5" height="3.5" fill="#2ca02c"/>
<rect x="401.15" y="241.85" width="3.5" height="3.5" fill="#2ca02c"/>
<rect x="410.05" y="243.05" width="3.5" height="3.5" fill="#2ca02c"/>
<rect x="430.65" y="242.25" width="3.5" height="3.5" fill="#2ca02c"/>
<rect x="446.05" y="246.05" width="3.5" height="3.5" fill="#2ca02c"/>
<rect x="452.25" y="265.65" width="3.5" height="3.5" fill="#2ca02c"/>
<rect x="454.95" y="279.45" width="3.5" height="3.5" fill="#2ca02c"/>
<rect x="461.75" y="308.35" width="3.5" height="3.5" fill="#2ca02c"/>
<rect x="495.75" y="326.65" width="3.5" height="3.5" fill="#2ca02c"/>
</g>
<rect x="333.2" y="204.2" width="164.5" height="138.6" fill="none" stroke="#808080" stroke-width="0.85"/>
<rect x="505.5" y="203.5" width="40.1" height="24" rx="0.9" fill="#fff" stroke="#d6d6d6" stroke-width="0.6"/>
<path d="M507.5 208.1H517.8" stroke="#1f77b4" stroke-width="0.95"/>
<path d="M512.65 205.75L514.9 208.1L512.65 210.45L510.4 208.1Z" fill="#1f77b4"/>
<text x="522" y="210.25" class="l" textLength="21.7" lengthAdjust="spacingAndGlyphs">DSHFMD</text>
<path d="M507.5 215.4H517.8" stroke="#ff7f0e" stroke-width="0.95"/>
<path d="M512.65 213.05L514.1 215.4L512.65 217.75L511.2 215.4Z" fill="#ff7f0e"/>
<text x="522" y="217.55" class="l" textLength="9.3" lengthAdjust="spacingAndGlyphs">FC1</text>
<path d="M507.5 222.8H517.8" stroke="#2ca02c" stroke-width="0.95"/>
<rect x="510.9" y="221.05" width="3.5" height="3.5" fill="#2ca02c"/>
<text x="522" y="224.95" class="l" textLength="20.8" lengthAdjust="spacingAndGlyphs">Conv3-5</text>
<text x="334.7" y="374.3" class="cap" textLength="161.8" lengthAdjust="spacingAndGlyphs">(d) Precision Recall Curve on 48 bits</text>
</svg>
</body></html>
